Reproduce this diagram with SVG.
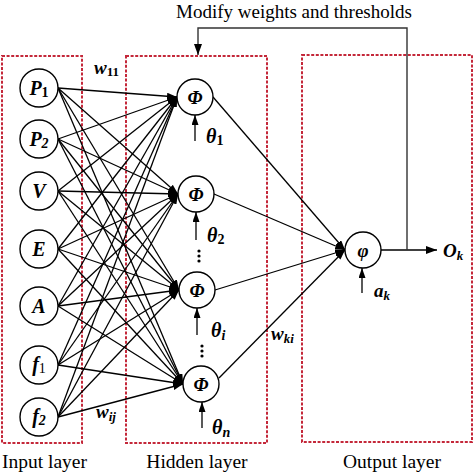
<svg xmlns="http://www.w3.org/2000/svg" width="474" height="474" viewBox="0 0 474 474">
<defs>
<marker id="ah" markerWidth="10" markerHeight="7" refX="10" refY="3.5" orient="auto" markerUnits="userSpaceOnUse"><path d="M0,0 L10,3.5 L0,7 z" fill="#000"/></marker>
<marker id="ah2" markerWidth="11" markerHeight="8" refX="11" refY="4" orient="auto" markerUnits="userSpaceOnUse"><path d="M0,0 L11,4 L0,8 z" fill="#000"/></marker>
<style>
.box{fill:none;stroke:#c4283a;stroke-width:2;stroke-dasharray:3 1.6}
.node{fill:#fff;stroke:#000;stroke-width:1.4}
.c line{stroke:#000;stroke-width:1.3}
.t{font-family:"Liberation Serif","Times New Roman",serif;fill:#000}
.bi{font-weight:bold;font-style:italic}
</style>
</defs>
<rect width="474" height="474" fill="#fff"/>

<g id="layer-boxes">
<rect class="box" x="2" y="56" width="80" height="387"/>
<rect class="box" x="126" y="56" width="141" height="387"/>
<rect class="box" x="302" y="55" width="170" height="387"/>
</g>

<g id="connectors" class="c">
<line x1="58" y1="88" x2="177" y2="97" marker-end="url(#ah)"/>
<line x1="58" y1="139" x2="177" y2="97" marker-end="url(#ah)"/>
<line x1="58" y1="191" x2="177" y2="97" marker-end="url(#ah)"/>
<line x1="58" y1="249" x2="177" y2="97" marker-end="url(#ah)"/>
<line x1="58" y1="306" x2="177" y2="97" marker-end="url(#ah)"/>
<line x1="58" y1="365" x2="177" y2="97" marker-end="url(#ah)"/>
<line x1="58" y1="417" x2="177" y2="97" marker-end="url(#ah)"/>
<line x1="58" y1="88" x2="178" y2="194" marker-end="url(#ah)"/>
<line x1="58" y1="139" x2="178" y2="194" marker-end="url(#ah)"/>
<line x1="58" y1="191" x2="178" y2="194" marker-end="url(#ah)"/>
<line x1="58" y1="249" x2="178" y2="194" marker-end="url(#ah)"/>
<line x1="58" y1="306" x2="178" y2="194" marker-end="url(#ah)"/>
<line x1="58" y1="365" x2="178" y2="194" marker-end="url(#ah)"/>
<line x1="58" y1="417" x2="178" y2="194" marker-end="url(#ah)"/>
<line x1="58" y1="88" x2="179" y2="290" marker-end="url(#ah)"/>
<line x1="58" y1="139" x2="179" y2="290" marker-end="url(#ah)"/>
<line x1="58" y1="191" x2="179" y2="290" marker-end="url(#ah)"/>
<line x1="58" y1="249" x2="179" y2="290" marker-end="url(#ah)"/>
<line x1="58" y1="306" x2="179" y2="290" marker-end="url(#ah)"/>
<line x1="58" y1="365" x2="179" y2="290" marker-end="url(#ah)"/>
<line x1="58" y1="417" x2="179" y2="290" marker-end="url(#ah)"/>
<line x1="58" y1="88" x2="183" y2="384" marker-end="url(#ah)"/>
<line x1="58" y1="139" x2="183" y2="384" marker-end="url(#ah)"/>
<line x1="58" y1="191" x2="183" y2="384" marker-end="url(#ah)"/>
<line x1="58" y1="249" x2="183" y2="384" marker-end="url(#ah)"/>
<line x1="58" y1="306" x2="183" y2="384" marker-end="url(#ah)"/>
<line x1="58" y1="365" x2="183" y2="384" marker-end="url(#ah)"/>
<line x1="58" y1="417" x2="183" y2="384" marker-end="url(#ah)"/>
<line x1="213" y1="97" x2="345" y2="250" marker-end="url(#ah)"/>
<line x1="214" y1="194" x2="345" y2="250" marker-end="url(#ah)"/>
<line x1="215" y1="290" x2="345" y2="250" marker-end="url(#ah)"/>
<line x1="219" y1="378" x2="345" y2="250" marker-end="url(#ah)"/>
<line x1="195" y1="141" x2="195" y2="115" marker-end="url(#ah)"/>
<line x1="196" y1="240" x2="196" y2="212" marker-end="url(#ah)"/>
<line x1="197" y1="335" x2="197" y2="308" marker-end="url(#ah)"/>
<line x1="202" y1="428" x2="202" y2="402" marker-end="url(#ah)"/>
<line x1="362" y1="293" x2="362" y2="268" marker-end="url(#ah)"/>
<line x1="381" y1="250" x2="437" y2="250" marker-end="url(#ah2)"/>
<polyline points="407,250 407,28 198,28 198,55" fill="none" stroke="#333" stroke-width="1.4" marker-end="url(#ah2)"/>
</g>

<g id="input-nodes" class="t">
<g id="n-P1"><circle class="node" cx="39" cy="88" r="19"/><text x="39" y="95" text-anchor="middle"><tspan class="bi" font-size="20">P</tspan><tspan font-size="14" font-weight="bold" dy="2">1</tspan></text></g>
<g id="n-P2"><circle class="node" cx="39" cy="139" r="19"/><text x="39" y="146" text-anchor="middle"><tspan class="bi" font-size="20">P</tspan><tspan class="bi" font-size="14" dy="2">2</tspan></text></g>
<g id="n-V"><circle class="node" cx="39" cy="191" r="19"/><text class="bi" x="39" y="198" text-anchor="middle" font-size="20">V</text></g>
<g id="n-E"><circle class="node" cx="39" cy="249" r="19"/><text class="bi" x="39" y="256" text-anchor="middle" font-size="20">E</text></g>
<g id="n-A"><circle class="node" cx="39" cy="306" r="19"/><text class="bi" x="39" y="313" text-anchor="middle" font-size="20">A</text></g>
<g id="n-f1"><circle class="node" cx="39" cy="365" r="19"/><text x="39" y="371" text-anchor="middle"><tspan class="bi" font-size="20">f</tspan><tspan font-size="14" dy="2">1</tspan></text></g>
<g id="n-f2"><circle class="node" cx="39" cy="417" r="19"/><text x="39" y="423" text-anchor="middle"><tspan class="bi" font-size="20">f</tspan><tspan class="bi" font-size="14" dy="2">2</tspan></text></g>
</g>

<g id="hidden-nodes" class="t">
<g id="h1"><circle class="node" cx="195" cy="97" r="18"/><text class="bi" x="195" y="104" text-anchor="middle" font-size="19">Φ</text></g>
<g id="h2"><circle class="node" cx="196" cy="194" r="18"/><text class="bi" x="196" y="201" text-anchor="middle" font-size="19">Φ</text></g>
<g id="h3"><circle class="node" cx="197" cy="290" r="18"/><text class="bi" x="197" y="297" text-anchor="middle" font-size="19">Φ</text></g>
<g id="h4"><circle class="node" cx="201" cy="384" r="18"/><text class="bi" x="201" y="391" text-anchor="middle" font-size="19">Φ</text></g>
</g>

<g id="output-node" class="t">
<circle class="node" cx="363" cy="250" r="18"/><text class="bi" x="363" y="257" text-anchor="middle" font-size="19">φ</text>
</g>

<g id="dots" fill="#000">
<circle cx="199" cy="251" r="1.6"/><circle cx="199" cy="256" r="1.6"/><circle cx="199" cy="261" r="1.6"/>
<circle cx="202" cy="346" r="1.6"/><circle cx="202" cy="351" r="1.6"/><circle cx="202" cy="356" r="1.6"/>
</g>

<g id="labels" class="t">
<text x="176" y="18" font-size="19">Modify weights and thresholds</text>
<text x="94" y="74"><tspan class="bi" font-size="19">w</tspan><tspan font-size="13" font-weight="bold" dy="2">11</tspan></text>
<text x="96" y="418"><tspan class="bi" font-size="19">w</tspan><tspan class="bi" font-size="13" dy="3">ij</tspan></text>
<text x="271" y="340"><tspan class="bi" font-size="19">w</tspan><tspan class="bi" font-size="13" dy="3">ki</tspan></text>
<text x="206" y="143"><tspan class="bi" font-size="20">θ</tspan><tspan font-size="14" font-weight="bold" dy="2">1</tspan></text>
<text x="207" y="242"><tspan class="bi" font-size="20">θ</tspan><tspan font-size="14" font-weight="bold" dy="2">2</tspan></text>
<text x="211" y="337"><tspan class="bi" font-size="20">θ</tspan><tspan class="bi" font-size="14" dy="3">i</tspan></text>
<text x="212" y="434"><tspan class="bi" font-size="20">θ</tspan><tspan class="bi" font-size="14" dy="3">n</tspan></text>
<text x="374" y="297"><tspan class="bi" font-size="19">a</tspan><tspan class="bi" font-size="13" dy="3">k</tspan></text>
<text x="443" y="257"><tspan class="bi" font-size="19">O</tspan><tspan class="bi" font-size="13" dy="3">k</tspan></text>
<text x="2" y="468" font-size="19.5">Input layer</text>
<text x="197" y="468" font-size="19.5" text-anchor="middle">Hidden layer</text>
<text x="392" y="468" font-size="19.5" text-anchor="middle">Output layer</text>
</g>
</svg>
